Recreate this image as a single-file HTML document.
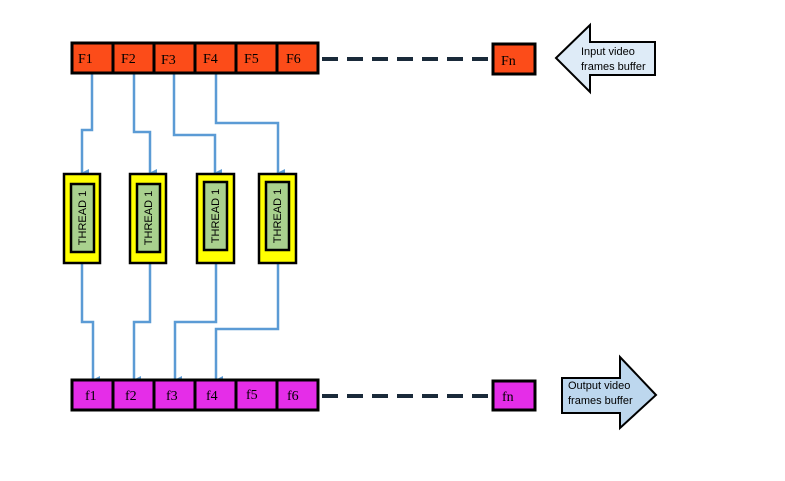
<!DOCTYPE html>
<html><head><style>body{margin:0;background:#fff}svg{display:block}</style></head><body>
<svg width="785" height="481" xmlns="http://www.w3.org/2000/svg" font-family="Liberation Serif, serif">
<defs><marker id="a" markerWidth="8" markerHeight="8" refX="4" refY="7" orient="auto" markerUnits="userSpaceOnUse"><path d="M0,0 L8,0 L4,8z" fill="#5b9bd5"/></marker></defs>
<g fill="none" stroke="#5b9bd5" stroke-width="2.5">
<path d="M92,73 V130 H82 V173" marker-end="url(#a)"/>
<path d="M134,73 V132 H150 V173" marker-end="url(#a)"/>
<path d="M174,73 V135 H215 V173" marker-end="url(#a)"/>
<path d="M216,73 V123 H278 V173" marker-end="url(#a)"/>
<path d="M82,263 V322 H93 V380" marker-end="url(#a)"/>
<path d="M150,263 V322 H134 V380" marker-end="url(#a)"/>
<path d="M216,263 V322 H175 V380" marker-end="url(#a)"/>
<path d="M278,263 V329 H216 V380" marker-end="url(#a)"/>
</g>
<g stroke="#000" stroke-width="3">
<rect x="72" y="43" width="246" height="30" fill="#fc4c19"/>
<path d="M113,43V73M154,43V73M195,43V73M236,43V73M277,43V73"/>
<rect x="72" y="380" width="246" height="30" fill="#e52de8"/>
<path d="M113,380V410M154,380V410M195,380V410M236,380V410M277,380V410"/>
<rect x="493" y="44" width="42" height="30" fill="#fc4c19"/>
<rect x="493" y="381" width="42" height="29" fill="#e52de8"/>
</g>
<g stroke="#1a2a3a" stroke-width="4" stroke-dasharray="16,9">
<path d="M322,59H492"/><path d="M322,396H492"/>
</g>
<g font-size="14" fill="#000">
<text x="78" y="63">F1</text><text x="121" y="63">F2</text><text x="161" y="64">F3</text><text x="203" y="63">F4</text><text x="244" y="63">F5</text><text x="286" y="63">F6</text>
<text x="501" y="65">Fn</text>
<text x="85" y="400">f1</text><text x="125" y="400">f2</text><text x="166" y="400">f3</text><text x="206" y="400">f4</text><text x="246" y="399">f5</text><text x="287" y="400">f6</text>
<text x="502" y="401">fn</text>
</g>
<g stroke="#000" stroke-width="2.5">
<rect x="64" y="174" width="36" height="89" fill="#ffff00"/>
<rect x="71" y="184" width="23" height="68" fill="#a9d18e"/>
<rect x="130" y="174" width="36" height="89" fill="#ffff00"/>
<rect x="137" y="184" width="23" height="68" fill="#a9d18e"/>
<rect x="197" y="174" width="37" height="89" fill="#ffff00"/>
<rect x="204" y="182" width="23" height="68" fill="#a9d18e"/>
<rect x="259" y="174" width="37" height="89" fill="#ffff00"/>
<rect x="266" y="182" width="23" height="68" fill="#a9d18e"/>
</g>
<g font-family="Liberation Sans, sans-serif" font-size="11" fill="#000" text-anchor="middle">
<text transform="translate(86,218) rotate(-90)">THREAD 1</text>
<text transform="translate(152,218) rotate(-90)">THREAD 1</text>
<text transform="translate(219,216) rotate(-90)">THREAD 1</text>
<text transform="translate(281,216) rotate(-90)">THREAD 1</text>
</g>
<path d="M556,58 L590,25 V42 H655 V75 H590 V92 Z" fill="#deebf7" stroke="#000" stroke-width="2"/>
<path d="M562,378 H620 V357 L656,395 L620,428 V413 H562 Z" fill="#bdd7ee" stroke="#000" stroke-width="2"/>
<g font-family="Liberation Sans, sans-serif" font-size="11" fill="#000">
<text x="581" y="55">Input video</text><text x="581" y="70">frames buffer</text>
<text x="568" y="389">Output video</text><text x="568" y="404">frames buffer</text>
</g>
</svg>
</body></html>
